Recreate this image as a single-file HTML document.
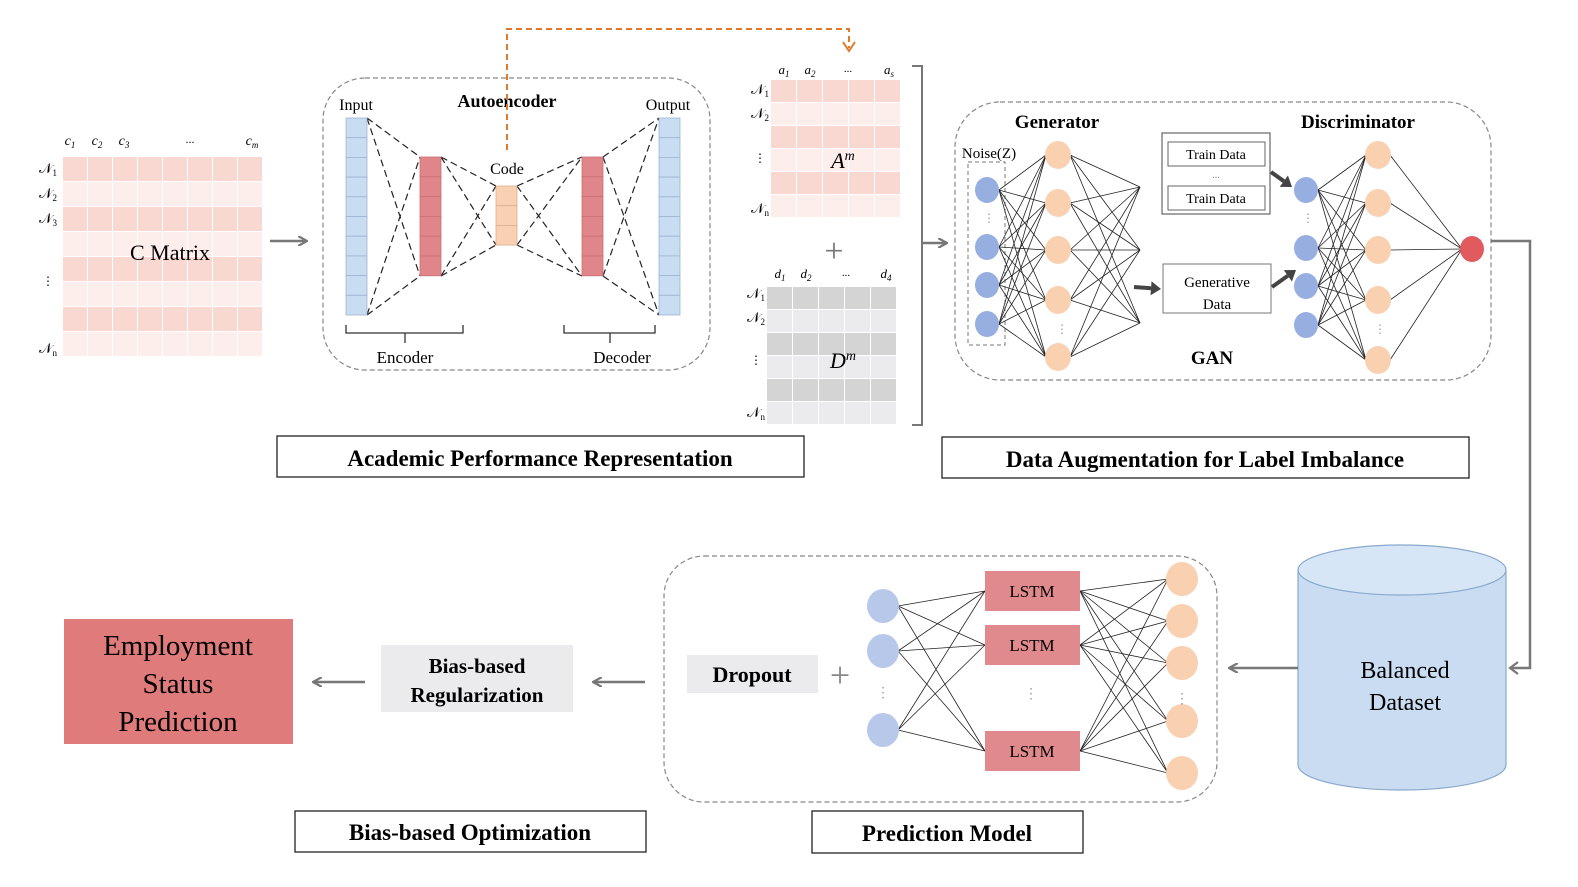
<!DOCTYPE html>
<html><head><meta charset="utf-8"><style>
html,body{margin:0;padding:0;background:#fff;}
svg{display:block;font-family:"Liberation Serif",serif;}
</style></head><body>
<svg id="s" width="1578" height="887" viewBox="0 0 1578 887" xmlns="http://www.w3.org/2000/svg">
<defs>
<marker id="ag" markerWidth="10" markerHeight="10" refX="8" refY="5" orient="auto" markerUnits="userSpaceOnUse"><path d="M0,0 L9,5 L0,10" fill="none" stroke="#777" stroke-width="2.2"/></marker>
<marker id="ao" markerWidth="10" markerHeight="10" refX="5" refY="8" orient="auto-start-reverse" markerUnits="userSpaceOnUse"></marker>
</defs>
<g id="g"></g>
</svg>
<script>
var g=document.getElementById('g');var h='';
function R(x,y,w,hh,f,s,extra){h+='<rect x="'+x+'" y="'+y+'" width="'+w+'" height="'+hh+'" fill="'+f+'"'+(s?' stroke="'+s+'"':'')+(extra||'')+'/>';}
function L(a,b,c,d,s,w,extra){h+='<line x1="'+a+'" y1="'+b+'" x2="'+c+'" y2="'+d+'" stroke="'+(s||'#222')+'" stroke-width="'+(w||0.8)+'"'+(extra||'')+'/>';}
function C(x,y,rx,ry,f){h+='<ellipse cx="'+x+'" cy="'+y+'" rx="'+rx+'" ry="'+ry+'" fill="'+f+'"/>';}
function T(x,y,t,sz,extra){h+='<text x="'+x+'" y="'+y+'" font-size="'+sz+'" text-anchor="middle"'+(extra||'')+'>'+t+'</text>';}
// C matrix
for(var r=0;r<8;r++)for(var c=0;c<8;c++)R(63+c*25,157+r*25,24,24,r%2==0?'#f9d8d2':'#fdeeec');
T(170,260,'C Matrix',22);
var cl=['c<tspan font-size="9" dy="3">1</tspan>','c<tspan font-size="9" dy="3">2</tspan>','c<tspan font-size="9" dy="3">3</tspan>'];
[70,97,124].forEach(function(x,i){T(x,145,cl[i],14,' font-style="italic"');});
T(190,143,'...',12);T(252,145,'c<tspan font-size="9" dy="3">m</tspan>',14,' font-style="italic"');
function N(x,y,s){T(x,y,'𝒩<tspan font-size="9" dy="3">'+s+'</tspan>',14);}
N(48,173,'1');N(48,198,'2');N(48,223,'3');T(48,285,'⋮',12);N(48,353,'n');
L(270,241,306,241,'#777',2.5,' marker-end="url(#ag)"');
// autoencoder
h+='<rect x="323" y="78" width="387" height="292" rx="42" fill="none" stroke="#888" stroke-width="1.2" stroke-dasharray="5,3"/>';
T(356,110,'Input',16);T(668,110,'Output',16);T(507,107,'Autoencoder',18,' font-weight="bold"');T(507,174,'Code',16);
var ds=' stroke-dasharray="7,4"';
function col(x,y,n,ch,f,s){for(var i=0;i<n;i++)R(x,y+i*ch,21,ch,f,s,' stroke-width="0.8"');}
// dashed lines
var pts=[[367,118,420,157],[367,118,420,276],[367,315,420,157],[367,315,420,276],[441,157,496,186],[441,157,496,245],[441,276,496,186],[441,276,496,245],[517,186,582,157],[517,186,582,276],[517,245,582,157],[517,245,582,276],[603,157,659,118],[603,157,659,315],[603,276,659,118],[603,276,659,315]];
pts.forEach(function(p){L(p[0],p[1],p[2],p[3],'#222',1.2,ds);});
col(346,118,10,19.7,'#c8dcf2','#9db5cf');col(659,118,10,19.7,'#c8dcf2','#9db5cf');
col(420,157,6,19.8,'#e0868a','#c97075');col(582,157,6,19.8,'#e0868a','#c97075');
col(496,186,3,19.7,'#f9d1b2','#d8b090');
h+='<path d="M346,325 V333 H463 V325 M405,333 V343 M564,325 V333 H655 V325 M610,333 V343" fill="none" stroke="#333" stroke-width="1.3"/>';
T(405,363,'Encoder',17);T(622,363,'Decoder',17);
// orange dashed
h+='<path d="M507,150 V29 H849 V48" fill="none" stroke="#e07a2a" stroke-width="2" stroke-dasharray="6,4"/>';
h+='<path d="M843,42 L849,51 L855,42" fill="none" stroke="#e07a2a" stroke-width="2"/>';
// A matrix
for(var r=0;r<6;r++)for(var c=0;c<5;c++)R(771+c*26,80+r*23,25,22,r%2==0?'#f9d8d2':'#fdeeec');
T(843,168,'A<tspan font-size="14" dy="-8">m</tspan>',22,' font-style="italic"');
T(784,74,'a<tspan font-size="9" dy="3">1</tspan>',13,' font-style="italic"');T(810,74,'a<tspan font-size="9" dy="3">2</tspan>',13,' font-style="italic"');T(848,72,'...',11);T(889,74,'a<tspan font-size="9" dy="3">s</tspan>',13,' font-style="italic"');
N(760,94,'1');N(760,118,'2');T(760,162,'⋮',12);N(760,213,'n');
T(834,262,'+',34,' fill="#777"');
for(var r=0;r<6;r++)for(var c=0;c<5;c++)R(767+c*26,287+r*23,25,22,r%2==0?'#d4d4d4':'#ebebed');
T(843,368,'D<tspan font-size="14" dy="-8">m</tspan>',22,' font-style="italic"');
T(780,278,'d<tspan font-size="9" dy="3">1</tspan>',13,' font-style="italic"');T(806,278,'d<tspan font-size="9" dy="3">2</tspan>',13,' font-style="italic"');T(846,276,'...',11);T(886,278,'d<tspan font-size="9" dy="3">4</tspan>',13,' font-style="italic"');
N(756,298,'1');N(756,322,'2');T(756,364,'⋮',12);N(756,417,'n');
h+='<path d="M912,66 H922 V425 H912" fill="none" stroke="#777" stroke-width="2"/>';
L(922,243,946,243,'#777',2.5,' marker-end="url(#ag)"');
// GAN
h+='<rect x="955" y="102" width="536" height="278" rx="45" fill="none" stroke="#888" stroke-width="1.2" stroke-dasharray="5,3"/>';
T(1057,128,'Generator',19,' font-weight="bold"');T(1358,128,'Discriminator',19,' font-weight="bold"');T(1212,364,'GAN',19,' font-weight="bold"');
T(989,158,'Noise(Z)',15);
h+='<rect x="968" y="162" width="37" height="183" fill="none" stroke="#777" stroke-dasharray="4,3"/>';
var nz=[190,247,285,324],gn=[155,203,250,300,357],g3=[187,250,323];
nz.forEach(function(a){gn.forEach(function(b){L(999,a,1046,b);});});
gn.forEach(function(a){g3.forEach(function(b){L(1070,a,1140,b);});});
var dn=[190,248,286,325],dp=[155,203,250,300,360];
dn.forEach(function(a){dp.forEach(function(b){L(1318,a,1366,b);});});
dp.forEach(function(a){L(1390,a,1462,249);});
nz.forEach(function(y){C(987,y,12,13,'#97aee0');});gn.forEach(function(y){C(1058,y,13,14,'#f9d0b0');});
dn.forEach(function(y){C(1306,y,12,13,'#97aee0');});dp.forEach(function(y){C(1378,y,13,14,'#f9d0b0');});
C(1472,249,12,13,'#e05a5e');
T(989,222,'⋮',12,' fill="#999"');T(1062,333,'⋮',12,' fill="#999"');T(1308,222,'⋮',12,' fill="#999"');T(1380,333,'⋮',12,' fill="#999"');
R(1162,133,108,81,'#fff','#666',' stroke-width="1.2"');R(1168,142,97,24,'#fff','#666');R(1168,186,97,24,'#fff','#666');
T(1216,159,'Train Data',14);T(1216,203,'Train Data',14);T(1216,178,'...',10,' fill="#888"');
R(1163,264,108,49,'#fff','#777');T(1217,287,'Generative',15);T(1217,309,'Data',15);
function fa(x1,y1,x2,y2){var dx=x2-x1,dy=y2-y1,l=Math.sqrt(dx*dx+dy*dy),ux=dx/l,uy=dy/l;var bx=x2-ux*10,by=y2-uy*10;L(x1,y1,bx,by,'#444',4);h+='<path d="M'+x2+','+y2+' L'+(bx-uy*7)+','+(by+ux*7)+' L'+(bx+uy*7)+','+(by-ux*7)+'Z" fill="#444"/>';}
fa(1134,287,1161,289);fa(1271,172,1292,187);fa(1272,287,1296,270);
// right connector
h+='<path d="M1491,241 H1530 V668 H1512" fill="none" stroke="#777" stroke-width="2.5"/>';
h+='<path d="M1518,662 L1510,668 L1518,674" fill="none" stroke="#777" stroke-width="2.2"/>';
// label boxes
R(277,436,527,41,'#fff','#222',' stroke-width="1.3"');T(540,466,'Academic Performance Representation',23,' font-weight="bold"');
R(942,437,527,41,'#fff','#222',' stroke-width="1.3"');T(1205,467,'Data Augmentation for Label Imbalance',23,' font-weight="bold"');
R(295,811,351,41,'#fff','#222',' stroke-width="1.3"');T(470,840,'Bias-based Optimization',23,' font-weight="bold"');
R(812,811,271,42,'#fff','#222',' stroke-width="1.3"');T(947,841,'Prediction Model',23,' font-weight="bold"');
// cylinder
h+='<path d="M1298,570 V765 A104,25 0 0 0 1506,765 V570" fill="#c9dcf2" stroke="#8aa9cc" stroke-width="1.2"/>';
h+='<ellipse cx="1402" cy="570" rx="104" ry="25" fill="#d6e6f6" stroke="#8aa9cc" stroke-width="1.2"/>';
T(1405,678,'Balanced',24);T(1405,710,'Dataset',24);
L(1298,668,1230,668,'#777',2.5,' marker-end="url(#ag)"');
// prediction box
h+='<rect x="664" y="556" width="553" height="246" rx="40" fill="none" stroke="#888" stroke-width="1.2" stroke-dasharray="5,3"/>';
var bn=[606,651,730],ls=[591,645,751],pn=[579,621,663,721,773];
bn.forEach(function(a){ls.forEach(function(b){L(898,a,985,b);});});
ls.forEach(function(a){pn.forEach(function(b){L(1080,a,1168,b);});});
bn.forEach(function(y){C(883,y,16,17,'#b7c8ea');});pn.forEach(function(y){C(1182,y,16,17,'#f9d0b0');});
ls.forEach(function(y){R(985,y-20,95,40,'#e18a8e');T(1032,y+6,'LSTM',17);});
T(883,697,'⋮',14,' fill="#999"');T(1031,698,'⋮',14,' fill="#999"');T(1182,703,'⋮',14,' fill="#999"');
R(687,655,131,38,'#ebebed');T(752,682,'Dropout',22,' font-weight="bold"');
T(840,687,'+',36,' fill="#888"');
L(645,682,594,682,'#777',2.5,' marker-end="url(#ag)"');
R(381,645,192,67,'#ebebed');T(477,673,'Bias-based',21,' font-weight="bold"');T(477,702,'Regularization',21,' font-weight="bold"');
L(365,682,314,682,'#777',2.5,' marker-end="url(#ag)"');
R(64,619,229,125,'#e07b7b');T(178,655,'Employment',29);T(178,693,'Status',29);T(178,731,'Prediction',29);
g.innerHTML=h;
</script>
</body></html>
